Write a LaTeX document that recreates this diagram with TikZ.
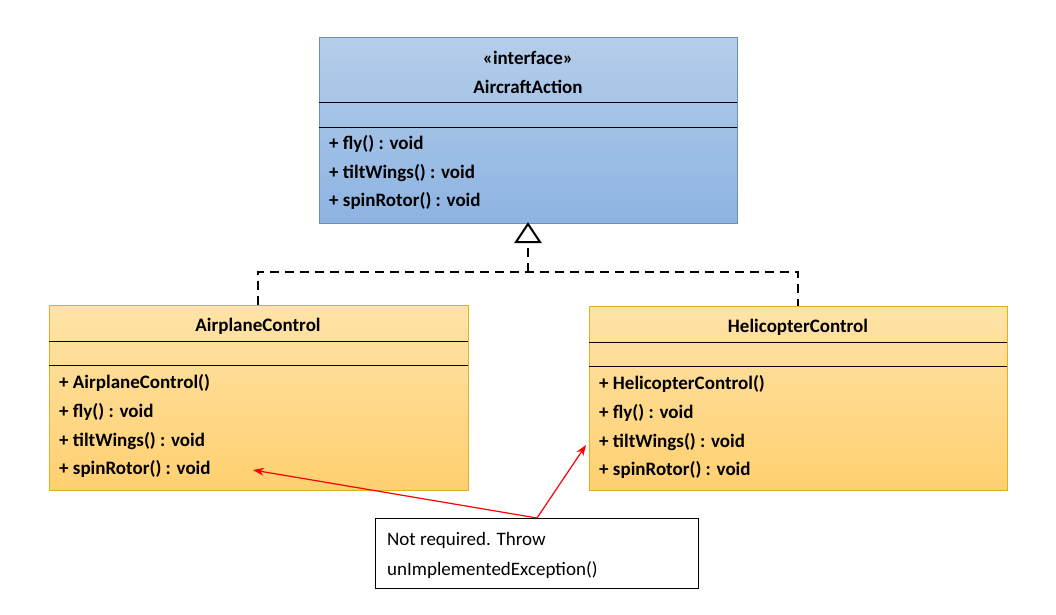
\documentclass[tikz,border=0pt]{standalone}
\usepackage{fontspec}
\setmainfont{Carlito}
\usetikzlibrary{arrows.meta}
\definecolor{bTop}{HTML}{B5CEEA}
\definecolor{bBot}{HTML}{8DB3E2}
\definecolor{bLine}{HTML}{6C8EBF}
\definecolor{oTop}{HTML}{FFE3A8}
\definecolor{oBot}{HTML}{FFD070}
\definecolor{oLine}{HTML}{E0B020}
\tikzset{
 x=1pt,y=-1pt,
 txt/.style={inner sep=0pt,anchor=west,font=\fontsize{19}{22}\selectfont\bfseries},
 ctxt/.style={inner sep=0pt,font=\fontsize{19}{22}\selectfont\bfseries},
 note/.style={inner sep=0pt,anchor=west,font=\fontsize{19}{22}\selectfont},
 realiz/.style={line width=2.6pt,dash pattern=on 9pt off 6pt},
 redarrow/.style={draw=red,line width=1.2pt,-{Stealth[length=11pt,width=8pt]}}
}
\begin{document}
\begin{tikzpicture}
\useasboundingbox (0,0) rectangle (1056,614);
% interface
\shade[top color=bTop,bottom color=bBot] (319,37) rectangle (737,223);
\draw[bLine] (319,37) rectangle (737,223);
\draw (319,102) -- (737,102) (319,127) -- (737,127);
\node[ctxt] (i1) at (528,58) {<<interface>>};
\node[ctxt] (i2) at (528,87) {AircraftAction};
\node[txt] (i3) at (329,144) {+ fly() : void};
\node[txt] (i4) at (329,173) {+ tiltWings() : void};
\node[txt] (i5) at (329,201) {+ spinRotor() : void};
% airplane
\shade[top color=oTop,bottom color=oBot] (49,305) rectangle (468,490);
\draw[oLine] (49,305) rectangle (468,490);
\draw (49,341) -- (468,341) (49,365) -- (468,365);
\node[ctxt] (a0) at (258,326) {AirplaneControl};
\node[txt] (a1) at (59,383) {+ AirplaneControl()};
\node[txt] (a2) at (59,412) {+ fly() : void};
\node[txt] (a3) at (59,441) {+ tiltWings() : void};
\node[txt] (a4) at (59,469) {+ spinRotor() : void};
% helicopter
\shade[top color=oTop,bottom color=oBot] (589,306) rectangle (1007,490);
\draw[oLine] (589,306) rectangle (1007,490);
\draw (589,342) -- (1007,342) (589,366) -- (1007,366);
\node[ctxt] (h0) at (798,327) {HelicopterControl};
\node[txt] (h1) at (599,384) {+ HelicopterControl()};
\node[txt] (h2) at (599,413) {+ fly() : void};
\node[txt] (h3) at (599,442) {+ tiltWings() : void};
\node[txt] (h4) at (599,470) {+ spinRotor() : void};
% realization
\coordinate (ja) at (258,272);
\coordinate (jh) at (798,272);
\coordinate (jm) at (528,272);
\draw[realiz] (258,305) -- (ja) -- (jh) -- (798,306);
\draw[realiz] (jm) -- (528,243);
\draw[line width=2pt,fill=white] (528,224) -- (540,242) -- (516,242) -- cycle;
% note
\draw[fill=white] (375,518) rectangle (698,588);
\node[note] (n1) at (387,540) {Not required. Throw};
\node[note] (n2) at (387,570) {unImplementedException()};
\coordinate (np) at (537,518);
\draw[redarrow] (np) -- (253,470);
\draw[redarrow] (np) -- (586,445);
\end{tikzpicture}
\end{document}
